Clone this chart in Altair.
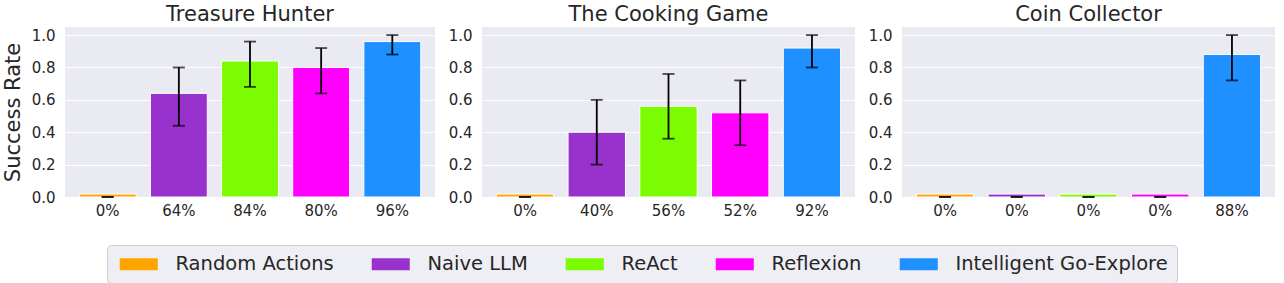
import json
import altair as alt
import pandas as pd

tasks = ["Treasure Hunter", "The Cooking Game", "Coin Collector"]
methods = ["Random Actions", "Naive LLM", "ReAct", "Reflexion", "Intelligent Go-Explore"]
colors = ["#FFA500", "#9932CC", "#7CFC00", "#FF00FF", "#1E90FF"]

# bar heights as drawn (0% bars are drawn as a thin sliver)
heights_th = [0.018, 0.64, 0.84, 0.80, 0.96]
heights_cg = [0.018, 0.40, 0.56, 0.52, 0.92]
heights_cc = [0.018, 0.018, 0.018, 0.018, 0.88]

err_lo_th = [0.0, 0.44, 0.68, 0.64, 0.88]
err_hi_th = [0.0, 0.80, 0.96, 0.92, 1.00]
err_lo_cg = [0.0, 0.20, 0.36, 0.32, 0.80]
err_hi_cg = [0.0, 0.60, 0.76, 0.72, 1.00]
err_lo_cc = [0.0, 0.0, 0.0, 0.0, 0.72]
err_hi_cc = [0.0, 0.0, 0.0, 0.0, 1.00]

labels_th = ["0%", "64%", "84%", "80%", "96%"]
labels_cg = ["0%", "40%", "56%", "52%", "92%"]
labels_cc = ["0%", "0%", "0%", "0%", "88%"]

y_ticks = [0.0, 0.2, 0.4, 0.6, 0.8, 1.0]

FONT = "DejaVu Sans"
TXT = "#262626"

panels = [
    (tasks[0], heights_th, err_lo_th, err_hi_th, labels_th, 370),
    (tasks[1], heights_cg, err_lo_cg, err_hi_cg, labels_cg, 373),
    (tasks[2], heights_cc, err_lo_cc, err_hi_cc, labels_cc, 373),
]

color_scale = alt.Scale(domain=methods, range=colors)
legend = alt.Legend(
    title=None,
    orient="none",
    legendX=42,
    legendY=218,
    direction="horizontal",
    columns=5,
    symbolType="M-3.17,-1H3.17V1H-3.17Z",
    symbolSize=144,
    symbolOffset=13,
    symbolStrokeWidth=0,
    symbolOpacity=1,
    labelFont=FONT,
    labelFontSize=19.5,
    labelColor=TXT,
    labelOffset=27,
    columnPadding=34,
    padding=9,
    strokeColor="#cccccc",
    fillColor="#eeeef5",
    cornerRadius=4,
    labelLimit=400,
)

charts = []
for i, (task, hts, lo, hi, labs, w) in enumerate(panels):
    df = pd.DataFrame({
        "method": methods,
        "height": hts,
        "lo": lo,
        "hi": hi,
    })
    expr = "%s[indexof(%s, datum.value)]" % (json.dumps(labs), json.dumps(methods))
    xaxis = alt.Axis(title=None, labelExpr=expr, labelAngle=0, labelPadding=6,
                     labelFontSize=15, grid=False)
    xscale = alt.Scale(paddingInner=0.2, paddingOuter=0.2)
    x = alt.X("method:N", sort=methods, scale=xscale, axis=xaxis)
    yaxis = alt.Axis(values=y_ticks, format=".1f", labelPadding=10, labelFontSize=15,
                     labelOverlap=False,
                     titleFontSize=21, titleFont=FONT, titleFontWeight="normal",
                     titleColor=TXT, titlePadding=8,
                     title=("Success Rate" if i == 0 else None))
    yscale = alt.Scale(domain=[0, 1.05], nice=False)
    base = alt.Chart(df)
    bars = base.mark_bar(stroke="white", strokeWidth=1).encode(
        x=x,
        y=alt.Y("height:Q", scale=yscale, axis=yaxis),
        color=alt.Color("method:N", scale=color_scale, legend=legend if i == 0 else None),
    )
    rule = base.mark_rule(color="black", strokeWidth=1.8).encode(
        x=x,
        y=alt.Y("lo:Q", scale=yscale, axis=yaxis),
        y2="hi:Q",
    )
    cap_lo = base.mark_tick(color="black", size=12, thickness=1.8, orient="horizontal").encode(
        x=x,
        y=alt.Y("lo:Q", scale=yscale, axis=yaxis),
    )
    cap_hi = base.mark_tick(color="black", size=12, thickness=1.8, orient="horizontal").encode(
        x=x,
        y=alt.Y("hi:Q", scale=yscale, axis=yaxis),
    )
    panel = alt.layer(bars, rule, cap_lo, cap_hi).properties(
        width=w, height=170,
        title=alt.TitleParams(task, fontSize=21, font=FONT, fontWeight="normal",
                              color=TXT, offset=2, anchor="middle"),
    )
    charts.append(panel)

chart = alt.hconcat(*charts, spacing=13).properties(
    padding={"left": 2, "top": 4, "right": 0, "bottom": 0},
    background="white",
).configure_view(
    strokeWidth=0, fill="#EAEAF2"
).configure_axis(
    labelFont=FONT, labelColor=TXT, domain=False, ticks=False,
    gridColor="white", gridWidth=1, gridOpacity=1,
)

chart.save("out.html", embed_options={"renderer": "svg", "actions": False})
